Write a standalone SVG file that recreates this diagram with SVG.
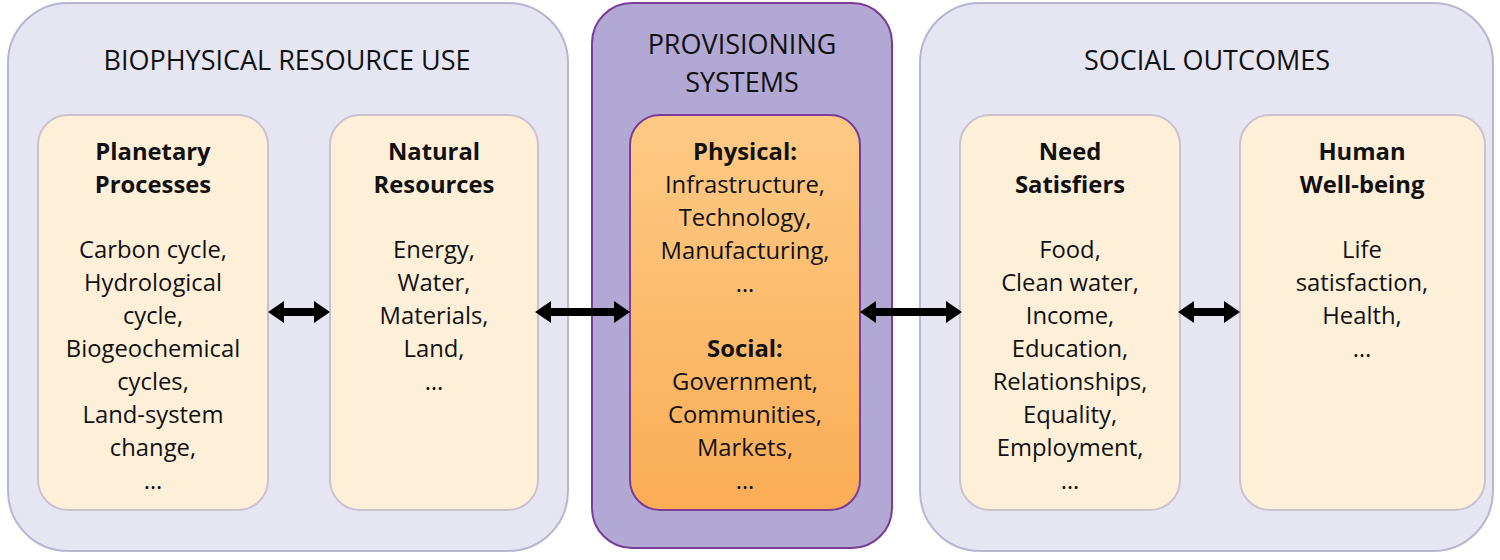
<svg xmlns="http://www.w3.org/2000/svg" width="1500" height="560" viewBox="0 0 1500 560">
<defs>
<linearGradient id="og" x1="0" y1="0" x2="0" y2="1"><stop offset="0" stop-color="#fdca86"/><stop offset="1" stop-color="#fbad55"/></linearGradient>
</defs>
<style>
.panel{fill:#e6e5f2;stroke:#b8b6cf;stroke-width:2}
.mid{fill:#b1a8d4;stroke:#7a3c98;stroke-width:2}
.box{fill:#feefd9;stroke:#c9c2cf;stroke-width:2}
.obox{fill:url(#og);stroke:#7a3c98;stroke-width:2}
text{font-family:"Open Sans","Liberation Sans",sans-serif;font-size:23.8px;fill:#111;text-anchor:middle}
.h{font-size:27px}
.b{font-weight:bold}
.c path{fill:#000}
</style>
<g id="biophysical"><rect class="panel" x="8" y="3" width="560" height="548" rx="60"/><text class="h" x="287" y="70">BIOPHYSICAL RESOURCE USE</text></g>
<g id="provisioning"><rect class="mid" x="592" y="3" width="300" height="545" rx="40"/><text class="h" x="742" y="54">PROVISIONING</text><text class="h" x="742" y="92">SYSTEMS</text></g>
<g id="social"><rect class="panel" x="920" y="3" width="573" height="548" rx="60"/><text class="h" x="1207" y="70">SOCIAL OUTCOMES</text></g>
<g id="planetary"><rect class="box" x="38" y="115" width="230" height="395" rx="30"/>
<text class="b" x="153" y="160">Planetary</text><text class="b" x="153" y="193">Processes</text>
<text x="153" y="258">Carbon cycle,</text><text x="153" y="291">Hydrological</text><text x="153" y="324">cycle,</text><text x="153" y="357">Biogeochemical</text><text x="153" y="390">cycles,</text><text x="153" y="423">Land-system</text><text x="153" y="456">change,</text><text x="153" y="489">…</text></g>
<g id="natural"><rect class="box" x="330" y="115" width="208" height="395" rx="30"/>
<text class="b" x="434" y="160">Natural</text><text class="b" x="434" y="193">Resources</text>
<text x="434" y="258">Energy,</text><text x="434" y="291">Water,</text><text x="434" y="324">Materials,</text><text x="434" y="357">Land,</text><text x="434" y="390">…</text></g>
<g id="systems"><rect class="obox" x="630" y="115" width="230" height="395" rx="30"/>
<text class="b" x="745" y="160">Physical:</text><text x="745" y="193">Infrastructure,</text><text x="745" y="226">Technology,</text><text x="745" y="259">Manufacturing,</text><text x="745" y="292">…</text>
<text class="b" x="745" y="357">Social:</text><text x="745" y="390">Government,</text><text x="745" y="423">Communities,</text><text x="745" y="456">Markets,</text><text x="745" y="489">…</text></g>
<g id="need"><rect class="box" x="960" y="115" width="220" height="395" rx="30"/>
<text class="b" x="1070" y="160">Need</text><text class="b" x="1070" y="193">Satisfiers</text>
<text x="1070" y="258">Food,</text><text x="1070" y="291">Clean water,</text><text x="1070" y="324">Income,</text><text x="1070" y="357">Education,</text><text x="1070" y="390">Relationships,</text><text x="1070" y="423">Equality,</text><text x="1070" y="456">Employment,</text><text x="1070" y="489">…</text></g>
<g id="wellbeing"><rect class="box" x="1240" y="115" width="245" height="395" rx="30"/>
<text class="b" x="1362" y="160">Human</text><text class="b" x="1362" y="193">Well-being</text>
<text x="1362" y="258">Life</text><text x="1362" y="291">satisfaction,</text><text x="1362" y="324">Health,</text><text x="1362" y="357">…</text></g>
<g class="c" id="connectors">
<path d="M268,312 L284,301 L284,308 L314,308 L314,301 L330,312 L314,323 L314,316 L284,316 L284,323 Z"/>
<path d="M535,312 L551,301 L551,308 L614,308 L614,301 L630,312 L614,323 L614,316 L551,316 L551,323 Z"/>
<path d="M860,312 L876,301 L876,308 L946,308 L946,301 L962,312 L946,323 L946,316 L876,316 L876,323 Z"/>
<path d="M1178,312 L1194,301 L1194,308 L1224,308 L1224,301 L1240,312 L1224,323 L1224,316 L1194,316 L1194,323 Z"/>
</g>
</svg>
